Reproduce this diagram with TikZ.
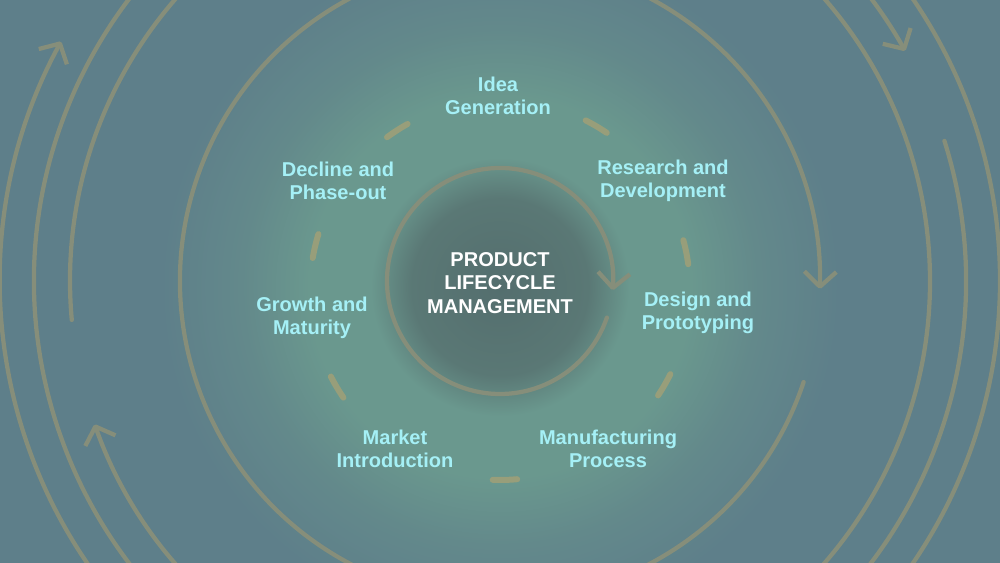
\documentclass[tikz,border=0pt]{standalone}
\usepackage{fontspec}
\setmainfont{Liberation Sans}
\usetikzlibrary{arrows.meta}

\definecolor{bgblue}{RGB}{94,127,138}
\definecolor{glowdark}{RGB}{84,110,110}
\definecolor{glowmid}{RGB}{90,120,117}
\definecolor{glowgreen}{RGB}{106,152,142}
\definecolor{glowfade}{RGB}{99,137,139}
\definecolor{ringtan}{RGB}{134,142,122}
\definecolor{ticktan}{RGB}{152,158,122}
\definecolor{labelcyan}{RGB}{165,240,246}

% dark middle, green ring, fading out to the background
\pgfdeclareradialshading{glowring}{\pgfpoint{0bp}{0bp}}{%
  color(0bp)=(glowdark); color(6.5bp)=(glowmid); color(9.5bp)=(glowgreen);
  color(14bp)=(glowgreen); color(19bp)=(glowfade); color(25bp)=(bgblue);
  color(50bp)=(bgblue)}

\tikzset{
  ring/.style={ringtan, line width=0.085cm, line cap=round,
    -{Straight Barb[length=0.3cm, width=0.64cm, line join=round]}},
  tick/.style={ticktan, line width=0.12cm, line cap=round},
  stage/.style={text=labelcyan, align=center,
    font=\fontsize{11.4}{13.2}\selectfont\bfseries}
}

\begin{document}
\begin{tikzpicture}[x=0.02cm, y=0.02cm]
    \useasboundingbox (0,0) rectangle (1000,563);
    \fill[bgblue] (0,0) rectangle (1000,563);
    \clip (0,0) rectangle (1000,563);
    \shade[shading=glowring] (500,276) circle [radius=340];

    \coordinate (hub) at (500,282);
    \coordinate (dashhub) at (500,273);

    % big clockwise arcs
    \foreach \rad/\from/\to in {320/-18.4/-361.4, 430/185.2/-160.5,
                                466/17.5/-330.4, 500/40/-208.6}{
        \draw[ring] ([shift={(\from:\rad)}]hub)
            arc[start angle=\from, end angle=\to, radius=\rad];
    }

    % inner circle
    \draw[ring] ([shift={(-18.9:113)}]hub)
        arc[start angle=-18.9, end angle=-364.6, radius=113];

    % short dashes between the stages
    \foreach \a in {122.8, 59.5, 11.5, -30, -88.5, -149.2, 166.6}{
        \draw[tick] ([shift={(\a+3.7:190)}]dashhub)
            arc[start angle=\a+3.7, end angle=\a-3.7, radius=190];
    }

    \node[stage] (idea) at (498,467) {Idea\\Generation};
    \node[stage] (research) at (663,382) {Research and\\Development};
    \node[stage] (design) at (698,250) {Design and\\Prototyping};
    \node[stage] (manufacturing) at (608,114) {Manufacturing\\Process};
    \node[stage] (market) at (395,114) {Market\\Introduction};
    \node[stage] (growth) at (312,245) {Growth and\\Maturity};
    \node[stage] (decline) at (338,382) {Decline and\\Phase-out};
    \node[stage, text=white] (plm) at (500,280) {PRODUCT\\LIFECYCLE\\MANAGEMENT};
\end{tikzpicture}
\end{document}
